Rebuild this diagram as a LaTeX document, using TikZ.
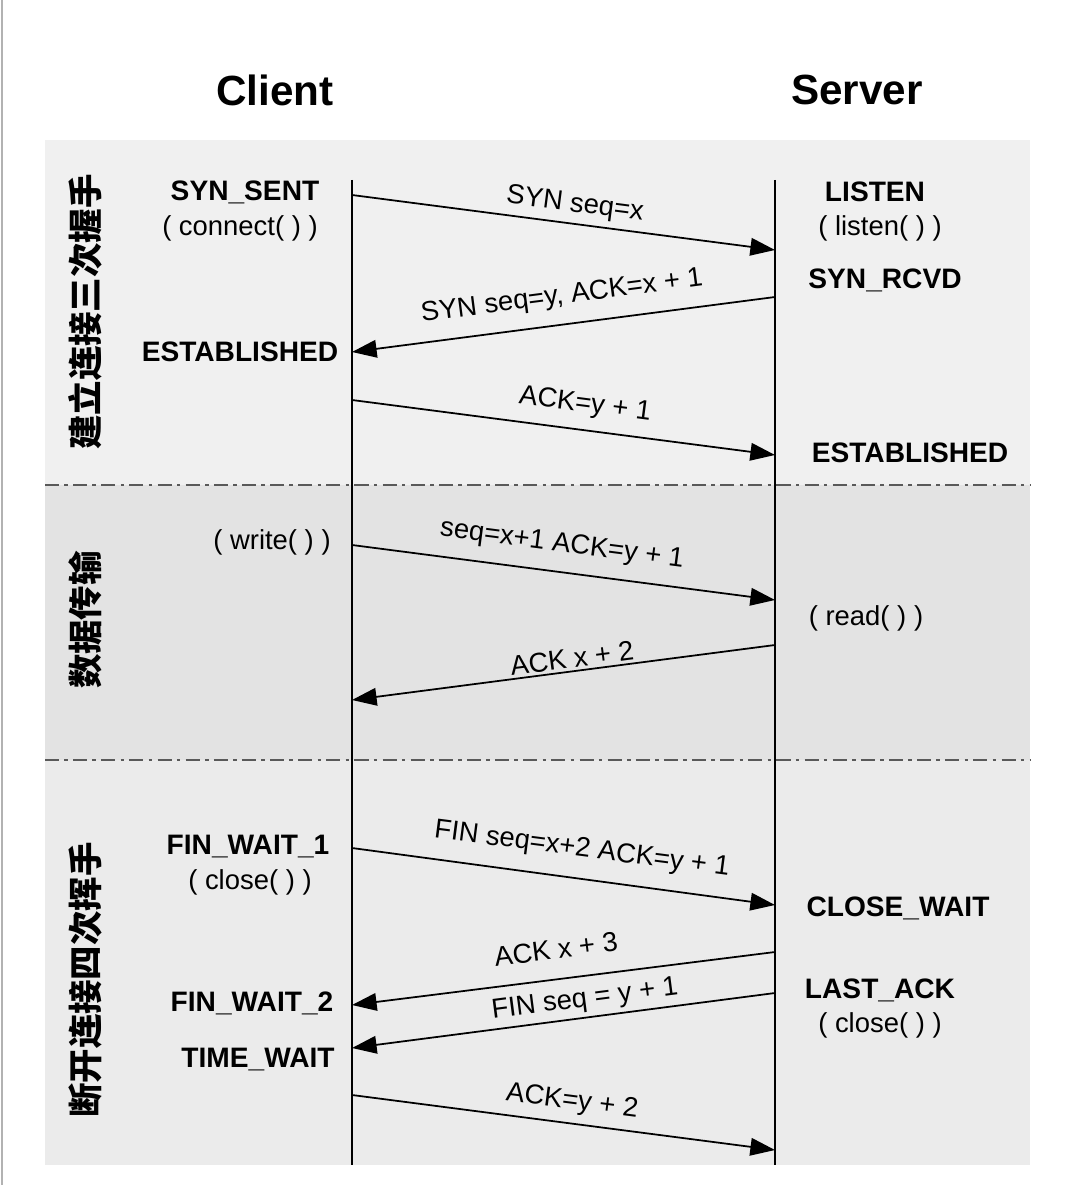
\documentclass[tikz,border=0pt]{standalone}
\usepackage{fontspec}
\setmainfont{Liberation Sans}
\newfontfamily\cjk{Noto Sans CJK SC}
\usetikzlibrary{arrows.meta}
\begin{document}
\begin{tikzpicture}[x=0.01cm,y=-0.01cm,
  st/.style={font=\fontsize{8}{9}\selectfont\bfseries},
  fn/.style={font=\fontsize{7.8}{9}\selectfont},
  msg/.style={font=\fontsize{7.8}{9}\selectfont},
  ttl/.style={font=\fontsize{12}{14}\selectfont\bfseries},
  phase/.style={font=\fontsize{9.8}{11}\selectfont\cjk\bfseries,rotate=90},
  arr/.style={line width=0.5pt,-{Triangle[length=7pt,width=5pt]}},
  sep/.style={line width=0.4pt,dash pattern=on 4pt off 1.5pt on 1pt off 1.5pt,gray!70!black}]
\useasboundingbox (0,0) rectangle (1080,1185);
\fill[white] (0,0) rectangle (1080,1185);
\draw[gray!60,line width=0.6pt] (2,0) -- (2,1185);
\fill[gray!12] (45,140) rectangle (1030,485);
\fill[gray!22] (45,485) rectangle (1030,760);
\fill[gray!16] (45,760) rectangle (1030,1165);
\draw[sep] (45,485) -- (1030,485);
\draw[sep] (45,760) -- (1030,760);
\node[ttl] (client) at (275,90) {Client};
\node[ttl] (server) at (857,90) {Server};
\coordinate (ct) at (352,180); \coordinate (cb) at (352,1165);
\coordinate (stp) at (775,180); \coordinate (sb) at (775,1165);
\draw[line width=0.55pt] (ct) -- (cb);
\draw[line width=0.55pt] (stp) -- (sb);
\node[phase] (p1) at (85,312) {建立连接三次握手};
\node[phase] (p2) at (85,620) {数据传输};
\node[phase] (p3) at (85,980) {断开连接四次挥手};
% left states
\node[st] (l1) at (245,192) {SYN\_SENT};
\node[fn] (l2) at (240,228) {( connect( ) )};
\node[st] (l3) at (240,352) {ESTABLISHED};
\node[fn] (l4) at (272,542) {( write( ) )};
\node[st] (l5) at (248,847) {FIN\_WAIT\_1};
\node[fn] (l6) at (250,882) {( close( ) )};
\node[st] (l7) at (252,1003) {FIN\_WAIT\_2};
\node[st] (l8) at (258,1060) {TIME\_WAIT};
% right states
\node[st] (r1) at (875,192) {LISTEN};
\node[fn] (r2) at (880,228) {( listen( ) )};
\node[st] (r3) at (885,280) {SYN\_RCVD};
\node[st] (r4) at (910,453) {ESTABLISHED};
\node[fn] (r5) at (866,618) {( read( ) )};
\node[st] (r6) at (898,908) {CLOSE\_WAIT};
\node[st] (r7) at (880,990) {LAST\_ACK};
\node[fn] (r8) at (880,1025) {( close( ) )};
% arrow endpoints
\foreach \n/\x/\y in {a1/352/195,b1/775/250,a2/775/297,b2/352/352,a3/352/400,b3/775/455,
  a4/352/545,b4/775/600,a5/775/645,b5/352/700,a6/352/848,b6/775/905,a7/775/952,b7/352/1005,
  a8/775/993,b8/352/1048,a9/352/1095,b9/775/1150}{\coordinate (\n) at (\x,\y);}
\draw[arr] (a1) -- (b1);
\draw[arr] (a2) -- (b2);
\draw[arr] (a3) -- (b3);
\draw[arr] (a4) -- (b4);
\draw[arr] (a5) -- (b5);
\draw[arr] (a6) -- (b6);
\draw[arr] (a7) -- (b7);
\draw[arr] (a8) -- (b8);
\draw[arr] (a9) -- (b9);
\node[msg,rotate=-7.4] (m1) at (575,205) {SYN seq=x};
\node[msg,rotate=7.4] (m2) at (562,297) {SYN seq=y, ACK=x + 1};
\node[msg,rotate=-7.4] (m3) at (585,405) {ACK=y + 1};
\node[msg,rotate=-7.4] (m4) at (562,545) {seq=x+1 ACK=y + 1};
\node[msg,rotate=7.4] (m5) at (572,658) {ACK x + 2};
\node[msg,rotate=-7.4] (m6) at (582,850) {FIN seq=x+2 ACK=y + 1};
\node[msg,rotate=7.4] (m7) at (556,949) {ACK x + 3};
\node[msg,rotate=7.4] (m8) at (585,1000) {FIN seq = y + 1};
\node[msg,rotate=-7.4] (m9) at (572,1102) {ACK=y + 2};
\end{tikzpicture}
\end{document}
